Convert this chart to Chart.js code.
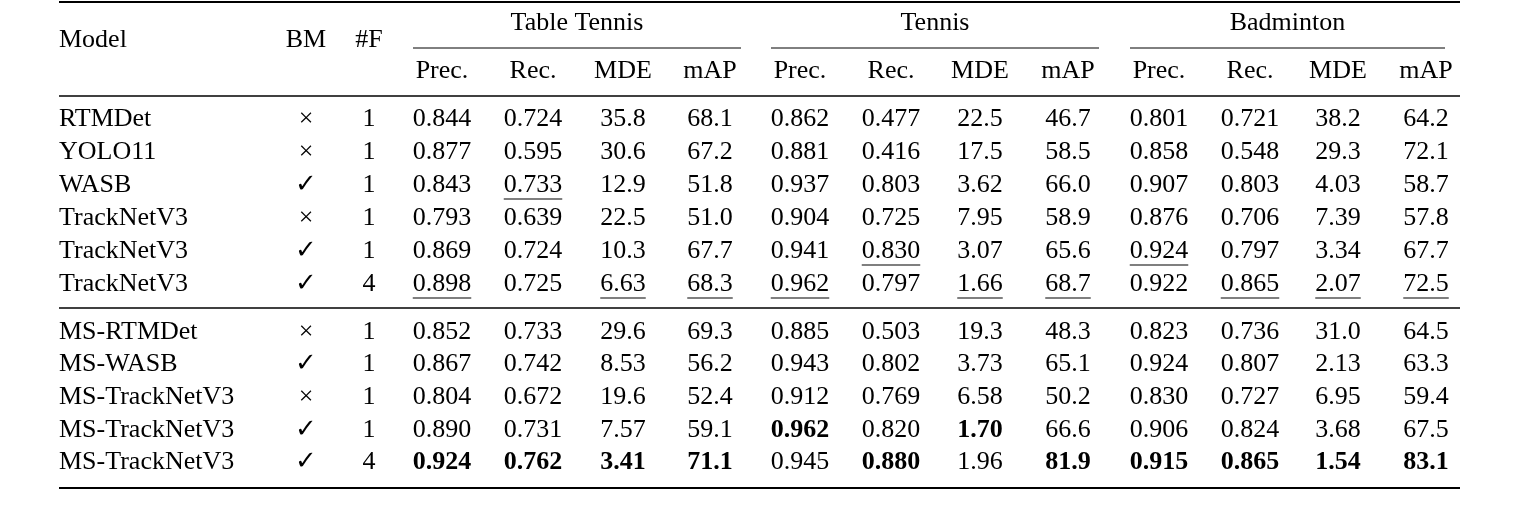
<!DOCTYPE html>
<html>
<head>
<meta charset="utf-8">
<script src="https://cdn.jsdelivr.net/npm/chart.js@4"></script>
<style>body{margin:0;background:#fff}</style>
</head>
<body>
<canvas id="tbl" width="1514" height="515"></canvas>
<script>
// --- Data ---
const models = ["RTMDet", "YOLO11", "WASB", "TrackNetV3", "TrackNetV3", "TrackNetV3",
  "MS-RTMDet", "MS-WASB", "MS-TrackNetV3", "MS-TrackNetV3", "MS-TrackNetV3"];
const bm = [false, false, true, false, true, true, false, true, false, true, true];
const frames = [1, 1, 1, 1, 1, 4, 1, 1, 1, 1, 4];
const sports = ["Table Tennis", "Tennis", "Badminton"];
const metrics = ["Prec.", "Rec.", "MDE", "mAP"];

const tableTennis = [
  [0.844, 0.724, 35.8, 68.1], [0.877, 0.595, 30.6, 67.2], [0.843, 0.733, 12.9, 51.8],
  [0.793, 0.639, 22.5, 51.0], [0.869, 0.724, 10.3, 67.7], [0.898, 0.725, 6.63, 68.3],
  [0.852, 0.733, 29.6, 69.3], [0.867, 0.742, 8.53, 56.2], [0.804, 0.672, 19.6, 52.4],
  [0.890, 0.731, 7.57, 59.1], [0.924, 0.762, 3.41, 71.1]];
const tennis = [
  [0.862, 0.477, 22.5, 46.7], [0.881, 0.416, 17.5, 58.5], [0.937, 0.803, 3.62, 66.0],
  [0.904, 0.725, 7.95, 58.9], [0.941, 0.830, 3.07, 65.6], [0.962, 0.797, 1.66, 68.7],
  [0.885, 0.503, 19.3, 48.3], [0.943, 0.802, 3.73, 65.1], [0.912, 0.769, 6.58, 50.2],
  [0.962, 0.820, 1.70, 66.6], [0.945, 0.880, 1.96, 81.9]];
const badminton = [
  [0.801, 0.721, 38.2, 64.2], [0.858, 0.548, 29.3, 72.1], [0.907, 0.803, 4.03, 58.7],
  [0.876, 0.706, 7.39, 57.8], [0.924, 0.797, 3.34, 67.7], [0.922, 0.865, 2.07, 72.5],
  [0.823, 0.736, 31.0, 64.5], [0.924, 0.807, 2.13, 63.3], [0.830, 0.727, 6.95, 59.4],
  [0.906, 0.824, 3.68, 67.5], [0.915, 0.865, 1.54, 83.1]];

// best (bold) and second best (underlined) cells: [row, metric column 0..11]
const best = [[9, 4], [9, 6], [10, 0], [10, 1], [10, 2], [10, 3], [10, 5], [10, 7],
  [10, 8], [10, 9], [10, 10], [10, 11]];
const second = [[2, 1], [4, 5], [4, 8], [5, 0], [5, 2], [5, 3], [5, 4], [5, 6], [5, 7],
  [5, 9], [5, 10], [5, 11]];

// --- Layout (pixel units of the hidden linear scales) ---
const colX = [442, 533, 623, 710, 800, 891, 980, 1068, 1159, 1250, 1338, 1426];
const groupSpan = [[413, 741], [771, 1099], [1130, 1445]];
const rowY = [119, 152, 185, 218, 251, 284, 332, 364, 397, 430, 462];
const FONT = "'Liberation Serif', 'DejaVu Serif', serif";

const fmt = (v, c) => {
  const m = c % 4;
  if (m < 2) return v.toFixed(3);
  if (m === 3) return v.toFixed(1);
  return v.toPrecision(3);
};
const has = (list, r, c) => list.some(p => p[0] === r && p[1] === c);

// one invisible point per cell, text drawn at its scale position
const cells = [];
models.forEach((m, r) => {
  const vals = [...tableTennis[r], ...tennis[r], ...badminton[r]];
  vals.forEach((v, c) => cells.push({ x: colX[c], y: rowY[r], r, c, v }));
});

const tablePlugin = {
  id: "tableText",
  afterDatasetsDraw(chart) {
    const ctx = chart.ctx, xs = chart.scales.x, ys = chart.scales.y;
    const X = v => xs.getPixelForValue(v), Y = v => ys.getPixelForValue(v);
    ctx.save();
    ctx.fillStyle = "#000";
    ctx.strokeStyle = "#000";
    ctx.textBaseline = "middle";
    const text = (s, x, y, align, bold) => {
      ctx.font = (bold ? "bold " : "") + "26px " + FONT;
      ctx.textAlign = align;
      ctx.fillText(s, X(x), Y(y));
    };
    const hline = (x1, x2, y, w) => {
      ctx.lineWidth = w;
      ctx.beginPath();
      ctx.moveTo(X(x1), Y(y));
      ctx.lineTo(X(x2), Y(y));
      ctx.stroke();
    };
    // rules
    hline(59, 1460, 2, 2.2);
    hline(59, 1460, 96, 1.4);
    hline(59, 1460, 308, 1.4);
    hline(59, 1460, 488, 2.2);
    groupSpan.forEach(g => hline(g[0], g[1], 48, 1));
    // header
    text("Model", 59, 40, "left");
    text("BM", 306, 40, "center");
    text("#F", 369, 40, "center");
    sports.forEach((s, i) => text(s, (groupSpan[i][0] + groupSpan[i][1]) / 2, 23, "center"));
    colX.forEach((x, c) => text(metrics[c % 4], x, 71, "center"));
    // body
    models.forEach((m, r) => {
      text(m, 59, rowY[r], "left");
      text(bm[r] ? "\u2713" : "\u00d7", 306, rowY[r], "center");
      text(String(frames[r]), 369, rowY[r], "center");
    });
    chart.data.datasets[0].data.forEach(p => {
      const s = fmt(p.v, p.c);
      const b = has(best, p.r, p.c);
      text(s, p.x, p.y, "center", b);
      if (has(second, p.r, p.c)) {
        const w = ctx.measureText(s).width;
        hline(p.x - w / 2 / xs.width * 1514, p.x + w / 2 / xs.width * 1514, p.y + 14, 1.2);
      }
    });
    ctx.restore();
  }
};

new Chart(document.getElementById("tbl"), {
  type: "scatter",
  data: { datasets: [{ data: cells, pointRadius: 0, pointHoverRadius: 0 }] },
  options: {
    responsive: false,
    animation: false,
    layout: { padding: 0 },
    plugins: { legend: { display: false }, tooltip: { enabled: false } },
    scales: {
      x: { type: "linear", min: 0, max: 1514, display: false },
      y: { type: "linear", min: 0, max: 515, reverse: true, display: false }
    }
  },
  plugins: [tablePlugin]
});
</script>
</body>
</html>
